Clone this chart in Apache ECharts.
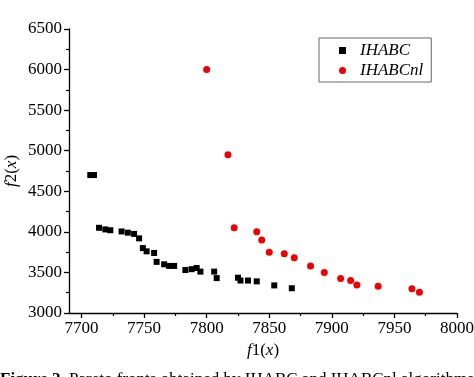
<!DOCTYPE html>
<html>
<head>
<meta charset="utf-8">
<script src="https://cdn.jsdelivr.net/npm/echarts@6/dist/echarts.min.js"></script>
<style>
  html, body { margin: 0; padding: 0; background: #fff; }
  #chart { width: 474px; height: 377px; }
</style>
</head>
<body>
<div id="chart"></div>
<script>
// IHABC front (f1, f2)
const ihabcF1 = [7707, 7710, 7714, 7719, 7723, 7732, 7737, 7742, 7746, 7749,
  7752, 7758, 7760, 7766, 7770, 7774, 7783, 7788, 7792, 7795,
  7806, 7808, 7825, 7827, 7833, 7840, 7854, 7868];
const ihabcF2 = [4700, 4700, 4050, 4030, 4020, 4005, 3990, 3975, 3920, 3800,
  3760, 3740, 3630, 3600, 3580, 3580, 3530, 3540, 3555, 3510,
  3510, 3430, 3435, 3400, 3400, 3390, 3340, 3305];

// IHABCnl front (f1, f2)
const nlF1 = [7800, 7817, 7822, 7840, 7844, 7850, 7862, 7870, 7883, 7894,
  7907, 7915, 7920, 7937, 7964, 7970];
const nlF2 = [6000, 4950, 4050, 4000, 3900, 3750, 3730, 3680, 3580, 3500,
  3425, 3400, 3345, 3330, 3300, 3255];

const xMajor = [7700, 7750, 7800, 7850, 7900, 7950, 8000];
const xMinor = [7725, 7775, 7825, 7875, 7925, 7975];

const serif = "Liberation Serif";

const chart = echarts.init(document.getElementById("chart"));

const toPairs = (xs, ys) => xs.map((x, i) => [x, ys[i]]);
const plain = (v) => String(v);

chart.setOption({
  animation: false,
  grid: { left: 69, right: 17, top: 29, bottom: 64, outerBoundsMode: "none", containLabel: false },
  legend: {
    orient: "vertical",
    left: 319,
    top: 38,
    padding: [4, 8, 3, 20],
    itemGap: 3,
    itemWidth: 7,
    itemHeight: 7,
    borderColor: "#666",
    borderWidth: 1,
    textStyle: { fontFamily: serif, fontStyle: "italic", fontSize: 17, color: "#000", padding: [0, 0, 0, 9] },
    data: ["IHABC", "IHABCnl"]
  },
  xAxis: [
    {
      type: "value",
      min: 7690,
      max: 8000,
      splitLine: { show: false },
      axisLine: { lineStyle: { color: "#000", width: 1.3 } },
      axisTick: { customValues: xMajor, length: 5, lineStyle: { color: "#000", width: 1.3 } },
      axisLabel: { customValues: xMajor, formatter: plain, margin: 7, fontFamily: serif, fontSize: 17, color: "#000" },
      name: "{i|f}1({i|x})",
      nameLocation: "middle",
      nameGap: 29,
      nameMoveOverlap: false,
      nameTextStyle: {
        fontFamily: serif, fontSize: 17, color: "#000",
        rich: { i: { fontFamily: serif, fontSize: 17, fontStyle: "italic", color: "#000" } }
      }
    },
    {
      type: "value",
      min: 7690,
      max: 8000,
      position: "bottom",
      splitLine: { show: false },
      axisLine: { show: false },
      axisTick: { customValues: xMinor, length: 3, lineStyle: { color: "#000", width: 1.2 } },
      axisLabel: { show: false }
    }
  ],
  yAxis: {
    type: "value",
    min: 3000,
    max: 6500,
    interval: 500,
    splitLine: { show: false },
    axisLine: { show: true, lineStyle: { color: "#000", width: 1.3 } },
    axisTick: { show: true, length: 5, lineStyle: { color: "#000", width: 1.3 } },
    minorTick: { show: true, splitNumber: 2, length: 3, lineStyle: { color: "#000", width: 1.2 } },
    axisLabel: { formatter: plain, margin: 7, fontFamily: serif, fontSize: 17, color: "#000" },
    name: "{i|f}2({i|x})",
    nameLocation: "middle",
    nameGap: 49,
    nameMoveOverlap: false,
    nameTextStyle: {
      fontFamily: serif, fontSize: 17, color: "#000",
      rich: { i: { fontFamily: serif, fontSize: 17, fontStyle: "italic", color: "#000" } }
    }
  },
  series: [
    {
      name: "IHABC",
      type: "scatter",
      symbol: "rect",
      symbolSize: 6,
      itemStyle: { color: "#000", opacity: 1 },
      data: toPairs(ihabcF1, ihabcF2)
    },
    {
      name: "IHABCnl",
      type: "scatter",
      symbol: "circle",
      symbolSize: 7,
      itemStyle: { color: "#f00000", opacity: 1 },
      data: toPairs(nlF1, nlF2)
    }
  ],
  graphic: [
    {
      type: "text",
      left: 0,
      top: 371,
      style: {
        text: "{b|Figure 2.} Pareto fronts obtained by IHABC and IHABCnl algorithms",
        fontFamily: serif,
        fontSize: 17,
        fill: "#000",
        rich: { b: { fontFamily: serif, fontSize: 17, fontWeight: "bold", fill: "#000" } }
      }
    }
  ]
});
</script>
</body>
</html>
